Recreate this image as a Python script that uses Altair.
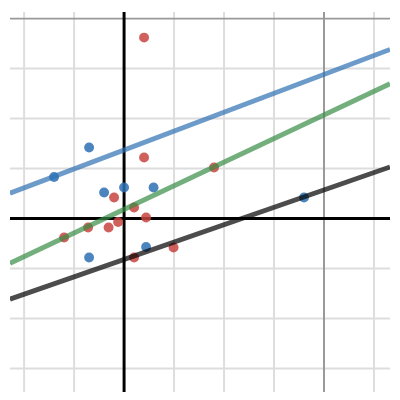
import altair as alt
import pandas as pd

# ---- data (graph units, 1 grid step = 1) ----
blue_x = [-1.40, -0.70, -0.40, 0.00, 0.59, -0.70, 0.44, 3.60]
blue_y = [0.83, 1.42, 0.52, 0.62, 0.62, -0.78, -0.57, 0.42]

red_x = [0.40, 0.40, 1.80, -0.20, 0.20, 0.44, -0.12, -0.31, -0.72, -1.20, 0.20, 0.99]
red_y = [3.62, 1.22, 1.02, 0.42, 0.22, 0.02, -0.07, -0.18, -0.18, -0.38, -0.78, -0.58]

line_names = ["blue", "green", "black"]
line_slopes = [0.378, 0.4725, 0.348]
line_intercepts = [1.372, 0.184, -0.820]

minor_grid_x = [-2, -1, 1, 2, 3, 5]
minor_grid_y = [-3, -2, -1, 1, 2, 3]
major_grid_x = [4]
major_grid_y = [4]

X_DOMAIN = [-2.283, 5.321]
Y_DOMAIN = [-3.471, 4.133]

colors = {"blue": "#2d70b3", "red": "#c74440", "green": "#388c46", "black": "#000000"}

# ---- tables ----
pts = pd.DataFrame(
    {"x": blue_x + red_x,
     "y": blue_y + red_y,
     "s": ["blue"] * len(blue_x) + ["red"] * len(red_x)}
)
rows = []
for n, m, b in zip(line_names, line_slopes, line_intercepts):
    for xv in X_DOMAIN:
        rows.append({"x": xv, "y": m * xv + b, "s": n})
lines = pd.DataFrame(rows)

xs = alt.Scale(domain=X_DOMAIN, nice=False, zero=False)
ys = alt.Scale(domain=Y_DOMAIN, nice=False, zero=False)
cs = alt.Scale(domain=list(colors.keys()), range=list(colors.values()))

def vrules(vals, color, w):
    return alt.Chart(pd.DataFrame({"x": vals})).mark_rule(color=color, strokeWidth=w).encode(
        x=alt.X("x:Q", scale=xs, axis=None))

def hrules(vals, color, w):
    return alt.Chart(pd.DataFrame({"y": vals})).mark_rule(color=color, strokeWidth=w).encode(
        y=alt.Y("y:Q", scale=ys, axis=None))

grid = (vrules(minor_grid_x, "#dddddd", 2) + hrules(minor_grid_y, "#dddddd", 2)
        + vrules(major_grid_x, "#999999", 2) + hrules(major_grid_y, "#999999", 2))
axes = vrules([0], "#000000", 3) + hrules([0], "#000000", 3)

points = alt.Chart(pts).mark_circle(size=100, opacity=0.85).encode(
    x=alt.X("x:Q", scale=xs, axis=None),
    y=alt.Y("y:Q", scale=ys, axis=None),
    color=alt.Color("s:N", scale=cs, legend=None),
)

line_layer = alt.Chart(lines).mark_line(strokeWidth=5, opacity=0.7, clip=True).encode(
    x=alt.X("x:Q", scale=xs, axis=None),
    y=alt.Y("y:Q", scale=ys, axis=None),
    color=alt.Color("s:N", scale=cs, legend=None),
    detail="s:N",
)

chart = alt.layer(grid, axes, points, line_layer).properties(
    width=384, height=384, padding=0, background="white"
).configure_view(stroke=None)

chart.save("out.html", embed_options={"renderer": "svg", "actions": False})
